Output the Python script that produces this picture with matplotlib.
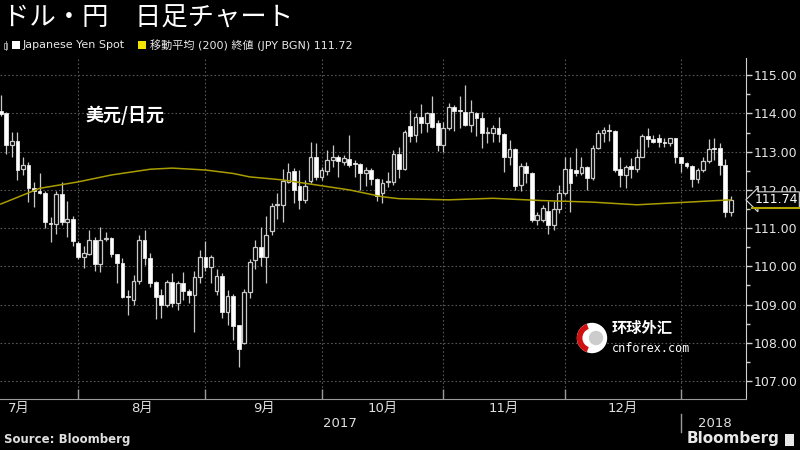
import numpy as np
import matplotlib
matplotlib.use('Agg')
import matplotlib.pyplot as plt
from matplotlib.patches import Rectangle, Circle, Wedge
from matplotlib.lines import Line2D
from matplotlib.ticker import MultipleLocator, FixedLocator

plt.rcParams['font.family'] = ['DejaVu Sans', 'Noto Sans CJK JP']

# daily candles, USD/JPY (one entry per weekday)
opens = [114.06, 114.00, 113.17, 113.28, 112.55, 112.65, 112.06, 111.97, 111.91, 111.12,
         111.10, 111.88, 111.17, 111.25, 110.62, 110.25, 110.33, 110.70, 110.05, 110.72,
         110.74, 110.31, 110.08, 109.21, 109.12, 109.62, 110.68, 110.22, 109.59, 109.25,
         108.98, 109.58, 109.04, 109.56, 109.36, 109.25, 109.71, 110.24, 109.99, 109.36,
         109.74, 108.81, 109.22, 108.47, 108.00, 109.33, 110.17, 110.50, 110.24, 110.92,
         111.60, 111.60, 112.20, 112.50, 112.10, 111.74, 112.22, 112.85, 112.33, 112.50,
         112.77, 112.85, 112.74, 112.81, 112.70, 112.68, 112.43, 112.52, 112.28, 111.91,
         112.20, 112.20, 112.94, 112.54, 113.67, 113.43, 113.91, 113.74, 114.00, 113.74,
         113.17, 113.63, 114.17, 114.09, 114.03, 113.70, 114.02, 113.87, 113.48, 113.48,
         113.61, 113.46, 112.87, 113.06, 112.13, 112.63, 112.45, 111.22, 111.22, 111.45,
         111.09, 111.50, 111.93, 112.54, 112.52, 112.43, 112.61, 112.30, 113.09, 113.48,
         113.57, 113.55, 112.54, 112.39, 112.63, 112.54, 112.87, 113.41, 113.33, 113.35,
         113.26, 113.22, 113.35, 112.87, 112.70, 112.63, 112.29, 112.52, 112.76, 113.09,
         113.09, 112.65, 111.43]
highs = [114.48, 114.04, 113.52, 113.52, 112.87, 112.74, 112.20, 112.43, 111.97, 111.29,
         111.97, 112.20, 111.70, 111.33, 110.67, 110.54, 110.96, 110.76, 111.02, 110.90,
         110.76, 110.33, 110.21, 109.39, 109.78, 110.81, 110.94, 110.35, 109.61, 109.42,
         109.65, 109.82, 109.61, 109.85, 109.41, 109.89, 110.44, 110.66, 110.30, 109.94,
         109.83, 109.38, 109.28, 108.47, 109.42, 110.20, 110.70, 111.02, 111.33, 111.65,
         111.92, 112.54, 112.71, 112.56, 112.52, 112.26, 113.26, 113.22, 112.61, 113.04,
         113.17, 112.91, 112.91, 113.43, 112.78, 112.70, 112.59, 112.57, 112.30, 112.28,
         112.48, 113.04, 113.13, 113.57, 114.09, 114.00, 114.24, 114.04, 114.45, 113.83,
         113.78, 114.26, 114.22, 114.45, 114.74, 114.35, 114.04, 114.04, 113.65, 113.70,
         113.90, 113.48, 113.30, 113.09, 112.70, 112.74, 112.48, 111.43, 111.61, 111.70,
         111.70, 112.13, 112.87, 112.85, 113.09, 112.85, 112.63, 113.17, 113.57, 113.65,
         113.72, 113.57, 112.87, 112.65, 112.83, 113.06, 113.46, 113.63, 113.43, 113.46,
         113.35, 113.37, 113.35, 112.87, 112.74, 112.65, 112.57, 112.87, 113.32, 113.35,
         113.22, 112.80, 111.84]
lows = [113.93, 112.95, 112.87, 112.27, 112.39, 111.69, 111.56, 111.90, 111.01, 110.63,
        110.84, 111.09, 110.77, 110.54, 110.20, 109.95, 110.29, 109.87, 109.85, 110.67,
        110.24, 109.56, 109.17, 108.73, 108.99, 109.55, 110.03, 109.47, 108.61, 108.65,
        108.93, 108.93, 108.86, 109.12, 109.03, 108.27, 109.56, 109.87, 109.56, 109.25,
        108.64, 108.46, 108.08, 107.36, 107.97, 109.16, 109.94, 110.00, 109.56, 110.83,
        111.25, 111.15, 112.17, 111.67, 111.50, 111.65, 112.17, 112.26, 112.26, 112.39,
        112.61, 112.33, 112.65, 112.61, 112.33, 112.00, 112.09, 112.13, 111.70, 111.65,
        112.07, 112.13, 112.30, 112.52, 113.26, 113.26, 113.48, 113.52, 113.61, 113.03,
        113.00, 113.57, 113.55, 113.63, 113.68, 113.52, 113.41, 113.09, 113.22, 113.26,
        113.26, 112.48, 112.65, 112.00, 111.96, 112.19, 111.17, 111.09, 111.17, 110.85,
        110.96, 111.39, 111.87, 111.43, 112.37, 112.39, 112.00, 112.26, 113.06, 113.26,
        113.29, 112.48, 112.07, 112.04, 112.30, 112.48, 112.85, 113.13, 113.22, 113.11,
        113.13, 113.15, 112.70, 112.48, 112.57, 112.07, 112.17, 112.48, 112.70, 112.78,
        112.39, 111.29, 111.32]
closes = [113.98, 113.17, 113.28, 112.52, 112.65, 112.06, 111.97, 111.92, 111.15, 111.10,
          111.88, 111.17, 111.25, 110.67, 110.24, 110.35, 110.70, 110.05, 110.68, 110.74,
          110.33, 110.08, 109.21, 109.20, 109.62, 110.68, 110.21, 109.56, 109.19, 108.98,
          109.58, 109.04, 109.56, 109.36, 109.25, 109.71, 110.24, 109.99, 110.25, 109.74,
          108.81, 109.22, 108.45, 107.85, 109.33, 110.11, 110.50, 110.24, 110.83, 111.58,
          111.62, 112.23, 112.48, 112.00, 111.74, 112.10, 112.85, 112.33, 112.52, 112.78,
          112.85, 112.76, 112.83, 112.65, 112.68, 112.43, 112.52, 112.28, 111.83, 112.19,
          112.21, 112.94, 112.54, 113.52, 113.41, 113.90, 113.74, 114.00, 113.65, 113.17,
          113.63, 114.17, 114.07, 114.06, 113.70, 114.03, 113.87, 113.48, 113.52, 113.61,
          113.46, 112.87, 113.06, 112.10, 112.63, 112.43, 111.22, 111.35, 111.52, 111.09,
          111.50, 111.93, 112.54, 112.17, 112.43, 112.61, 112.30, 113.09, 113.48, 113.57,
          113.54, 112.52, 112.39, 112.61, 112.54, 112.87, 113.41, 113.32, 113.26, 113.26,
          113.22, 113.35, 112.87, 112.70, 112.63, 112.29, 112.52, 112.76, 113.06, 113.07,
          112.65, 111.43, 111.74]

# 200-day moving average, read at a few candle positions
ma_idx = [0, 7, 14, 20, 27, 31, 37, 42, 45, 51, 57, 63, 69, 72, 81, 89, 98, 107, 115, 123, 132]
ma_val = [111.63, 112.04, 112.21, 112.39, 112.54, 112.57, 112.52, 112.43, 112.34, 112.26, 112.13,
          112.00, 111.82, 111.77, 111.74, 111.78, 111.72, 111.68, 111.61, 111.67, 111.74]

month_starts = [14, 37, 58, 80, 102, 123]
month_labels = ['8月', '9月', '10月', '11月', '12月']
last_value = 111.74

W, H = 800, 450
fig = plt.figure(figsize=(8, 4.5), dpi=100, facecolor='black')
ax = fig.add_axes([0, 1 - 399 / H, 746 / W, (399 - 58) / H], facecolor='black')

def px(x, y):
    return x / W, 1 - y / H

o = np.array(opens); c = np.array(closes)
hi = np.array(highs); lo = np.array(lows)
x = np.arange(len(o))
up = c >= o
ax.vlines(x, lo, hi, color='#c8c8c8', lw=0.9, zorder=2)
body = np.maximum(np.abs(c - o), 0.025)
bottom = np.minimum(o, c)
ax.bar(x[up], body[up], bottom=bottom[up], width=0.68, facecolor='black',
       edgecolor='#c8c8c8', lw=0.9, zorder=3)
ax.bar(x[~up], body[~up], bottom=bottom[~up], width=0.68, facecolor='white',
       edgecolor='#e8e8e8', lw=0.6, zorder=3)
ax.plot(ma_idx, ma_val, color='#aa9d00', lw=1.1, zorder=4)

ax.set_xlim(-0.15, 134.75)
ax.set_ylim(106.53, 115.45)

ax.yaxis.tick_right()
ax.yaxis.set_major_locator(MultipleLocator(1))
ax.yaxis.set_minor_locator(MultipleLocator(0.5))
ax.yaxis.set_major_formatter(matplotlib.ticker.FormatStrFormatter('%.2f'))
ax.tick_params(axis='y', which='major', direction='out', length=4, width=1, color='#d0d0d0',
               labelcolor='#e6e6e6', labelsize=9, pad=1.5)
ax.tick_params(axis='y', which='minor', direction='out', length=3, width=1, color='#d0d0d0')
ax.xaxis.set_major_locator(FixedLocator(month_starts))
ax.tick_params(axis='x', which='major', direction='in', length=7, width=1, color='#9a9a9a',
               labelbottom=False)
for side in ['top', 'left']:
    ax.spines[side].set_visible(False)
ax.spines['right'].set_color('#d0d0d0')
ax.spines['bottom'].set_color('#9a9a9a')
ax.grid(which='major', color='#555555', lw=0.8, linestyle=(0, (1.5, 2)))

bt = matplotlib.transforms.blended_transform_factory(ax.transData, ax.transAxes)
ax.text(1.2, -0.027, '7月', transform=bt, color='#e0e0e0', fontsize=9.5, ha='left', va='center')
for a, b, lab in zip(month_starts[:-1], month_starts[1:], month_labels):
    ax.text((a + b) / 2, -0.027, lab, transform=bt, color='#e0e0e0', fontsize=9.5,
            ha='center', va='center')
ax.text(61.3, -0.071, '2017', transform=bt, color='#e0e0e0', fontsize=9.5, ha='center', va='center')
ax.text(month_starts[-1] + 3, -0.071, '2018', transform=bt, color='#e0e0e0', fontsize=9.5,
        ha='left', va='center')
ax.add_line(Line2D([month_starts[-1]] * 2, [-0.045, -0.097], transform=bt, color='#9a9a9a',
                   lw=1, clip_on=False))

fig.add_artist(Line2D([752 / W, 1.0], [1 - 208 / H] * 2, color='#b4a600', lw=1.5))
ax.annotate(f'{last_value:.2f}', xy=(1, last_value), xycoords=('axes fraction', 'data'),
            xytext=(6, 0), textcoords='offset points', ha='left', va='center',
            color='white', fontsize=9, annotation_clip=False, zorder=10,
            bbox=dict(boxstyle='larrow,pad=0.12', fc='black', ec='#dddddd', lw=0.8))

# header
fig.text(*px(3, 18), 'ドル・円　日足チャート', color='white', fontsize=19,
         family=['Noto Sans CJK JP'], va='center', ha='left')
fig.add_artist(Rectangle(px(4, 49), 3 / W, 6 / H, fc='none', ec='#aaaaaa', lw=0.6))
fig.add_artist(Line2D([5.5 / W] * 2, [1 - 50 / H, 1 - 41 / H], color='#aaaaaa', lw=0.6))
fig.add_artist(Rectangle(px(12, 49), 8 / W, 8 / H, fc='white', ec='none'))
fig.text(*px(23, 45), 'Japanese Yen Spot', color='#e8e8e8', fontsize=8, va='center')
fig.add_artist(Rectangle(px(138, 49), 8 / W, 8 / H, fc='#f0e400', ec='none'))
fig.text(*px(150, 45), '移動平均 (200) 終値 (JPY BGN) 111.72', color='#e8e8e8', fontsize=8,
         va='center')

fig.text(*px(125, 115), '美元/日元', color='white', fontsize=13, fontweight='bold',
         family=['Noto Sans CJK SC'], ha='center', va='center')

# watermark
lax = fig.add_axes([576 / W, 1 - 354 / H, 32 / W, 32 / H])
lax.set_xlim(-1, 1); lax.set_ylim(-1, 1); lax.set_aspect('equal'); lax.axis('off')
lax.add_patch(Circle((0, 0), 0.95, fc='white', ec='none'))
lax.add_patch(Wedge((0, 0), 0.95, 110, 250, width=0.35, fc='#d01010', ec='none'))
lax.add_patch(Circle((0.25, 0), 0.45, fc='#cccccc', ec='none'))
fig.text(*px(612, 328), '环球外汇', color='white', fontsize=11, fontweight='bold',
         family=['Noto Sans CJK SC'], va='center')
fig.text(*px(612, 348), 'cnforex.com', color='white', fontsize=8.5, family='DejaVu Sans Mono',
         va='center')

fig.text(*px(4, 440), 'Source: Bloomberg', color='#e0e0e0', fontsize=8.5, fontweight='bold',
         va='center')
fig.text(*px(780, 439), 'Bloomberg', color='#e8e8e8', fontsize=11, fontweight='bold',
         va='center', ha='right')
fig.add_artist(Rectangle(px(785, 446), 9 / W, 12 / H, fc='#e8e8e8', ec='none'))

fig.savefig('out.png', dpi=100, facecolor='black')
